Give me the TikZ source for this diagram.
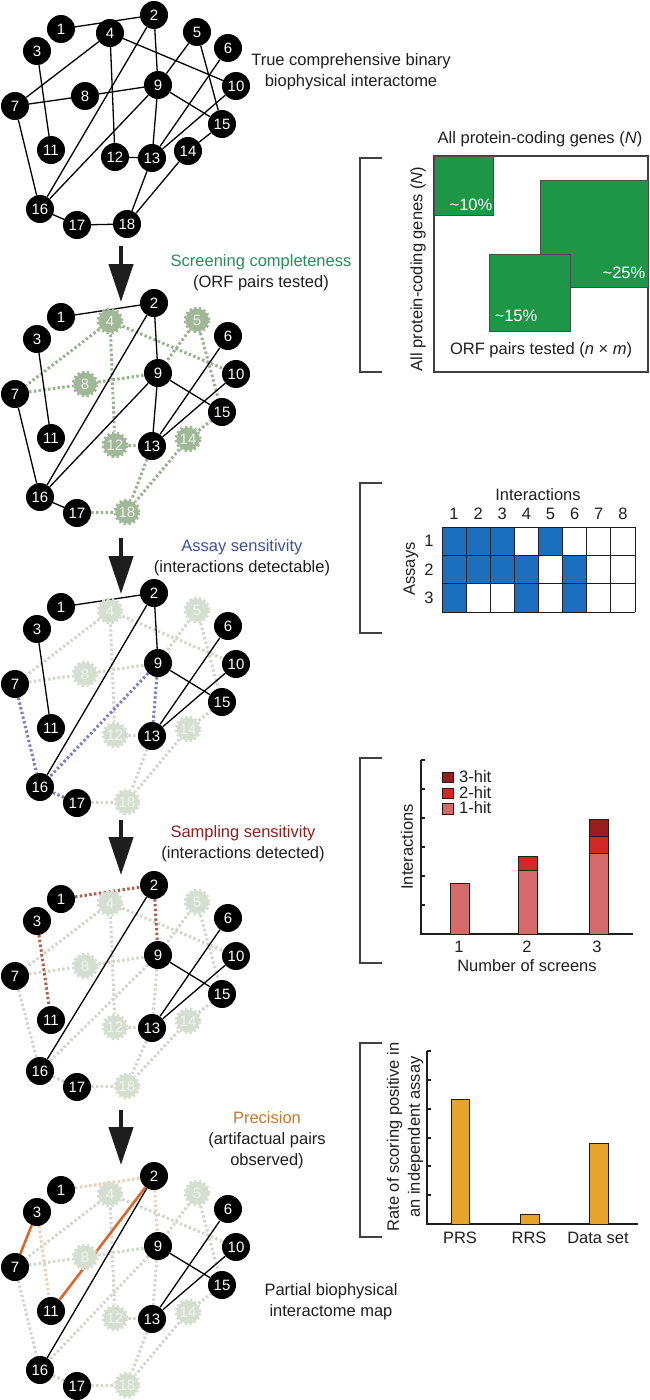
\documentclass[tikz,border=0pt]{standalone}
\usepackage{fontspec}
\setmainfont{Liberation Sans}
\usetikzlibrary{arrows.meta}
\pgfdeclarelayer{bg}
\pgfsetlayers{bg,main}
\definecolor{txt}{RGB}{30,30,30}
\definecolor{gearAc}{RGB}{160,184,152}
\definecolor{gearBc}{RGB}{214,222,210}
\definecolor{dotAc}{RGB}{150,178,140}
\definecolor{dotBc}{RGB}{208,214,206}
\definecolor{dotbluec}{RGB}{125,125,195}
\definecolor{dotredc}{RGB}{170,95,75}
\definecolor{dotorangec}{RGB}{236,208,180}
\definecolor{orangelinec}{RGB}{215,105,45}
\definecolor{cgreen}{RGB}{40,140,90}
\definecolor{cblue}{RGB}{60,80,160}
\definecolor{cred}{RGB}{140,30,30}
\definecolor{corange}{RGB}{200,120,50}
\definecolor{boxgreen}{RGB}{30,150,72}
\definecolor{gridblue}{RGB}{28,110,190}
\definecolor{hitone}{RGB}{212,106,106}
\definecolor{hittwo}{RGB}{212,40,40}
\definecolor{hitthree}{RGB}{154,28,28}
\definecolor{barorange}{RGB}{232,163,42}
\newcommand\fs{\fontsize{16.5}{21}\selectfont}
\newcommand\nfs{\fontsize{15}{15}\selectfont}
\def\netpos{1/61/29/0,2/154/15/0,3/37/51/0,4/110/33/0,5/197/32/0,6/228/48/0,7/15/106/0,8/85/96/0,9/158/85/0,10/236/86/0,11/51/150/0,12/115/157/0,13/152/158/0,14/188/151/0,15/222/124/0,16/40/209/1,17/77/225/1,18/127/224/1}
\def\alledges{1/2,2/9,2/16,4/7,4/12,4/10,3/11,7/8,8/9,7/16,9/16,9/13,9/15,5/9,5/15,6/13,10/13,12/13,13/18,14/15,14/18,16/17,17/18}
\def\gearedges{4/7,4/12,4/10,7/8,8/9,5/9,5/15,12/13,13/18,14/15,14/18,17/18}
\def\blacknodes{1,2,3,6,7,9,10,11,13,15,16,17}
\def\gearnodes{4,5,8,12,14,18}
\newcommand\netcoords[3]{\foreach \i/\x/\y/\b in \netpos {\coordinate (#1p\i) at (\x,{\y+#2+\b*#3});}}
\begin{document}
\begin{tikzpicture}[x=1pt,y=-1pt,
  prot/.style={circle,fill=black,text=white,minimum size=28pt,inner sep=0pt,font=\nfs},
  gearA/.style={circle,fill=gearAc,draw=gearAc,line width=4pt,dash pattern=on 2.3pt off 2.3pt,minimum size=23pt,inner sep=0pt,text=white!80!gearAc,font=\nfs},
  gearB/.style={circle,fill=gearBc,draw=gearBc,line width=4pt,dash pattern=on 2.3pt off 2.3pt,minimum size=23pt,inner sep=0pt,text=white!60!gearBc,font=\nfs},
  solidE/.style={draw=black,line width=1.3pt},
  dotE/.style={line width=3pt,dash pattern=on 2.4pt off 2.4pt},
  oraE/.style={draw=orangelinec,line width=2.6pt},
  bigarr/.style={draw=txt,line width=4.5pt,-{Triangle[length=38pt,width=24pt]}},
  lab/.style={font=\fs,text=txt,align=center,inner sep=0pt},
  brk/.style={draw=txt!85,line width=1.3pt},
  axisl/.style={draw=txt,line width=1.1pt},
  barout/.style={draw=black!80!brown,line width=0.8pt}
]
\useasboundingbox (0,0) rectangle (650,1400);

% ---------- network a (complete)
\netcoords{a}{0}{0}
\foreach \i in {1,...,18} \node[prot] (a\i) at (ap\i) {\i};
\begin{pgfonlayer}{bg}
\foreach \u/\v in \alledges \draw[solidE] (a\u) -- (a\v);
\end{pgfonlayer}

% ---------- network b (screening completeness)
\netcoords{b}{288}{0}
\foreach \i in \blacknodes \node[prot] (b\i) at (bp\i) {\i};
\foreach \i in \gearnodes \node[gearA] (b\i) at (bp\i) {\i};
\begin{pgfonlayer}{bg}
\foreach \u/\v in \gearedges \draw[dotE,draw=dotAc] (b\u) -- (b\v);
\foreach \u/\v in {1/2,2/9,2/16,3/11,7/16,9/16,9/13,9/15,6/13,10/13,16/17} \draw[solidE] (b\u) -- (b\v);
\end{pgfonlayer}

% ---------- network c (assay sensitivity)
\netcoords{c}{578}{0}
\foreach \i in \blacknodes \node[prot] (c\i) at (cp\i) {\i};
\foreach \i in \gearnodes \node[gearB] (c\i) at (cp\i) {\i};
\begin{pgfonlayer}{bg}
\foreach \u/\v in \gearedges \draw[dotE,draw=dotBc] (c\u) -- (c\v);
\foreach \u/\v in {7/16,9/16,9/13,16/17} \draw[dotE,draw=dotbluec] (c\u) -- (c\v);
\foreach \u/\v in {1/2,2/9,2/16,3/11,9/15,6/13,10/13} \draw[solidE] (c\u) -- (c\v);
\end{pgfonlayer}

% ---------- network d (sampling sensitivity)
\netcoords{d}{870}{-8}
\foreach \i in \blacknodes \node[prot] (d\i) at (dp\i) {\i};
\foreach \i in \gearnodes \node[gearB] (d\i) at (dp\i) {\i};
\begin{pgfonlayer}{bg}
\foreach \u/\v in \gearedges \draw[dotE,draw=dotBc] (d\u) -- (d\v);
\foreach \u/\v in {7/16,9/16,9/13,16/17} \draw[dotE,draw=dotBc] (d\u) -- (d\v);
\foreach \u/\v in {1/2,2/9,3/11} \draw[dotE,draw=dotredc] (d\u) -- (d\v);
\foreach \u/\v in {2/16,9/15,6/13,10/13} \draw[solidE] (d\u) -- (d\v);
\end{pgfonlayer}

% ---------- network e (precision)
\netcoords{e}{1161}{0}
\foreach \i in \blacknodes \node[prot] (e\i) at (ep\i) {\i};
\foreach \i in \gearnodes \node[gearB] (e\i) at (ep\i) {\i};
\begin{pgfonlayer}{bg}
\foreach \u/\v in \gearedges \draw[dotE,draw=dotBc] (e\u) -- (e\v);
\foreach \u/\v in {7/16,9/16,9/13,16/17} \draw[dotE,draw=dotBc] (e\u) -- (e\v);
\foreach \u/\v in {1/2,2/9,3/11} \draw[dotE,draw=dotorangec] (e\u) -- (e\v);
\foreach \u/\v in {2/16,9/15,6/13,10/13} \draw[solidE] (e\u) -- (e\v);
\foreach \u/\v in {3/7,2/11} \draw[oraE] (e\u) -- (e\v);
\end{pgfonlayer}

% ---------- big arrows
\coordinate (ar1s) at (121,246); \coordinate (ar1e) at (121,302);
\coordinate (ar2s) at (121,538); \coordinate (ar2e) at (121,594);
\coordinate (ar3s) at (121,820); \coordinate (ar3e) at (121,875);
\coordinate (ar4s) at (121,1110); \coordinate (ar4e) at (121,1165);
\draw[bigarr] (ar1s) -- (ar1e);
\draw[bigarr] (ar2s) -- (ar2e);
\draw[bigarr] (ar3s) -- (ar3e);
\draw[bigarr] (ar4s) -- (ar4e);

% ---------- labels
\node[lab] (t1) at (351,72) {True comprehensive binary\\biophysical interactome};
\node[lab] (t2) at (261,273) {\textcolor{cgreen}{Screening completeness}\\(ORF pairs tested)};
\node[lab] (t3) at (242,558) {\textcolor{cblue}{Assay sensitivity}\\(interactions detectable)};
\node[lab] (t4) at (243,844) {\textcolor{cred}{Sampling sensitivity}\\(interactions detected)};
\node[lab] (t5) at (267,1140) {\textcolor{corange}{Precision}\\(artifactual pairs\\observed)};
\node[lab] (t6) at (331,1302) {Partial biophysical\\interactome map};

% ---------- panel 1: ORF pairs tested
\draw[brk] (382,158) -- (360,158) -- (360,372) -- (382,372);
\draw[draw=txt!85,line width=1.1pt,fill=white] (434,156) rectangle (648,372);
\draw[fill=boxgreen,draw=txt!80,line width=0.9pt] (434,156) rectangle (493,215);
\draw[fill=boxgreen,draw=txt!80,line width=0.9pt] (540,180) rectangle (648,287);
\draw[fill=boxgreen,draw=txt!80,line width=0.9pt] (489,254) rectangle (570,331);
\node[lab,text=white] (p10) at (471,205) {\textasciitilde 10\%};
\node[lab,text=white] (p25) at (624,273) {\textasciitilde 25\%};
\node[lab,text=white] (p15) at (516,316) {\textasciitilde 15\%};
\node[lab] (orf) at (541,350) {ORF pairs tested (\textit{n} × \textit{m})};
\node[lab] (gtop) at (540,139) {All protein-coding genes (\textit{N})};
\node[lab,rotate=90] (gleft) at (418,269) {All protein-coding genes (\textit{N})};

% ---------- panel 2: assays grid
\draw[brk] (382,483) -- (360,483) -- (360,633) -- (382,633);
\foreach \r/\cols in {1/{1,2,3,5},2/{1,2,3,4,6},3/{1,4,6}}
  \foreach \c in \cols
    \fill[gridblue] ({442+(\c-1)*24.125},{527+(\r-1)*28.333}) rectangle ++(24.125,28.333);
\foreach \c in {0,...,8} \draw[txt,line width=0.9pt] ({442+\c*24.125},527) -- ++(0,85);
\foreach \r in {0,...,3} \draw[txt,line width=0.9pt] (442,{527+\r*28.333}) -- (635,{527+\r*28.333});
\foreach \c in {1,...,8} \node[lab] (ic\c) at ({442+(\c-0.5)*24.125},514) {\c};
\node[lab] (ititle) at (538,495) {Interactions};
\foreach \r in {1,2,3} \node[lab] (ar\r) at (429,{527+(\r-0.5)*28.333}) {\r};
\node[lab,rotate=90] (assays) at (411,569) {Assays};

% ---------- panel 3: sampling bar chart
\draw[brk] (382,758) -- (360,758) -- (360,963) -- (382,963);
\draw[axisl] (421,760) -- (421,934) -- (633,934);
\foreach \t in {760,789,818,847,876,905} \draw[axisl] (421,\t) -- (425,\t);
\draw[barout,fill=hitone] (450,934) rectangle (469,883);
\draw[barout,fill=hitone] (518,934) rectangle (537,870);
\draw[barout,fill=hittwo] (518,870) rectangle (537,856);
\draw[barout,fill=hitone] (589,934) rectangle (608,853);
\draw[barout,fill=hittwo] (589,853) rectangle (608,836);
\draw[barout,fill=hitthree] (589,836) rectangle (608,819);
\draw[barout,fill=hitthree] (442,772) rectangle (453,782);
\draw[barout,fill=hittwo] (442,788) rectangle (453,798);
\draw[barout,fill=hitone] (442,803) rectangle (453,814);
\node[lab,anchor=west] (l3) at (459,777) {3-hit};
\node[lab,anchor=west] (l2) at (459,793) {2-hit};
\node[lab,anchor=west] (l1) at (459,808) {1-hit};
\node[lab] (x1) at (459,947) {1};
\node[lab] (x2) at (527,947) {2};
\node[lab] (x3) at (597,947) {3};
\node[lab] (nscr) at (527,966) {Number of screens};
\node[lab,rotate=90] (inty) at (407,847) {Interactions};

% ---------- panel 4: precision bar chart
\draw[brk] (382,1043) -- (360,1043) -- (360,1237) -- (382,1237);
\draw[axisl] (427,1051) -- (427,1224) -- (638,1224);
\foreach \t in {1051,1080,1109,1138,1166,1195} \draw[axisl] (427,\t) -- (431,\t);
\draw[barout,fill=barorange] (451,1224) rectangle (469,1099);
\draw[barout,fill=barorange] (520,1224) rectangle (539,1214);
\draw[barout,fill=barorange] (589,1224) rectangle (608,1143);
\node[lab] (prs) at (460,1238) {PRS};
\node[lab] (rrs) at (529,1238) {RRS};
\node[lab] (dset) at (598,1238) {Data set};
\node[lab,rotate=90] (ratey) at (405,1137) {Rate of scoring positive in\\an independent assay};
\end{tikzpicture}
\end{document}
